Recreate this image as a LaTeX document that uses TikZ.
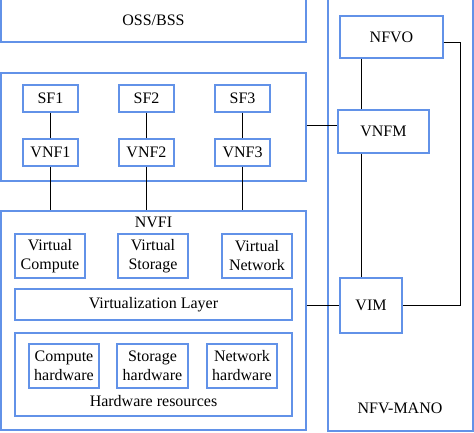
\documentclass[tikz,border=0pt]{standalone}
\usepackage{fontspec}
\setmainfont{Liberation Serif}
\usepackage{xcolor}
\usetikzlibrary{positioning}
\definecolor{boxblue}{RGB}{98,146,232}

\begin{document}
\begin{tikzpicture}[x=1bp, y=-1bp,
  box/.style={draw=boxblue, line width=1.2bp, fill=white, align=center,
              inner sep=0pt, font=\fontsize{16bp}{19bp}\selectfont},
  grp/.style={draw=boxblue, line width=1.4bp, inner sep=0pt},
  lbl/.style={font=\fontsize{16bp}{19bp}\selectfont, inner sep=0pt},
  lnk/.style={draw=black, line width=0.9bp},
]
\useasboundingbox (0,0) rectangle (474,432);

% outer groups
\node[box, minimum width=305bp, minimum height=44bp] (oss) at (153.5,20) {OSS/BSS};
\node[grp, minimum width=305bp, minimum height=108bp] (vnfgrp) at (153.5,127) {};
\node[grp, minimum width=305bp, minimum height=219bp] (nvfi) at (153.5,320.5) {};
\node[grp, minimum width=145bp, minimum height=433bp] (mano) at (400.5,214.5) {};

% VNF layer
\node[box, minimum width=55bp, minimum height=27bp] (sf1) at (50.5,98.5) {SF1};
\node[box, minimum width=55bp, minimum height=27bp] (sf2) at (146.5,98.5) {SF2};
\node[box, minimum width=55bp, minimum height=27bp] (sf3) at (242.5,98.5) {SF3};
\node[box, minimum width=55bp, minimum height=27bp] (vnf1) at (50.5,152.5) {VNF1};
\node[box, minimum width=55bp, minimum height=27bp] (vnf2) at (146.5,152.5) {VNF2};
\node[box, minimum width=55bp, minimum height=27bp] (vnf3) at (242.5,152.5) {VNF3};

% NFVI
\node[lbl] (nvfilbl) at (153.5,222) {NVFI};
\node[box, minimum width=70bp, minimum height=44bp] (vcomp) at (50,256) {Virtual\\Compute};
\node[box, minimum width=70bp, minimum height=44bp] (vstor) at (153,256) {Virtual\\Storage};
\node[box, minimum width=70bp, minimum height=44bp] (vnet) at (257,256) {Virtual\\Network};
\node[box, minimum width=277bp, minimum height=31bp] (vlayer) at (153.5,304.5) {Virtualization Layer};
\node[grp, minimum width=277bp, minimum height=83bp] (hwres) at (153.5,374.5) {};
\node[box, minimum width=70bp, minimum height=44bp] (hwcomp) at (64,366) {Compute\\hardware};
\node[box, minimum width=71bp, minimum height=44bp] (hwstor) at (152.5,366) {Storage\\hardware};
\node[box, minimum width=70bp, minimum height=44bp] (hwnet) at (242,366) {Network\\hardware};
\node[lbl] (hwlbl) at (153.5,401) {Hardware resources};

% MANO
\node[box, minimum width=103bp, minimum height=42bp] (nfvo) at (391.5,37) {NFVO};
\node[box, minimum width=91bp, minimum height=43bp] (vnfm) at (383.5,131.5) {VNFM};
\node[box, minimum width=62bp, minimum height=55bp] (vim) at (371,305.5) {VIM};
\node[lbl] (manolbl) at (400,408) {NFV-MANO};

\coordinate (bus) at (361,0);
\coordinate (ret) at (460,0);

% links
\draw[lnk] (sf1) -- (vnf1);
\draw[lnk] (sf2) -- (vnf2);
\draw[lnk] (sf3) -- (vnf3);
\draw[lnk] (vnf1.south) -- (vnf1.south |- nvfi.north);
\draw[lnk] (vnf2.south) -- (vnf2.south |- nvfi.north);
\draw[lnk] (vnf3.south) -- (vnf3.south |- nvfi.north);
\draw[lnk] ([yshift=2bp]vnfgrp.east) -- ([yshift=2bp]vnfgrp.east -| vnfm.west);
\draw[lnk] (nfvo.south -| bus) -- (vnfm.north -| bus);
\draw[lnk] (vnfm.south -| bus) -- (vim.north -| bus);
\draw[lnk] (nvfi.east |- vim.west) -- (vim.west);
\draw[lnk] ([yshift=-5bp]nfvo.east) -- ([yshift=-5bp]nfvo.east -| ret) -- (vim.east -| ret) -- (vim.east);
\end{tikzpicture}
\end{document}
